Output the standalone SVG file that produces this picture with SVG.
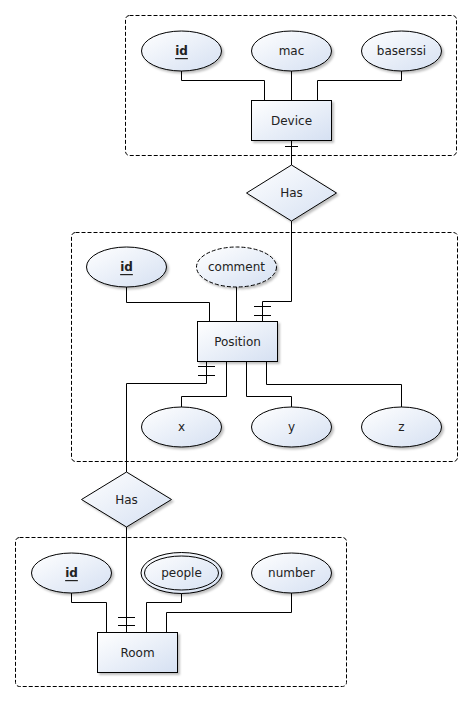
<svg xmlns="http://www.w3.org/2000/svg" width="472" height="703" viewBox="0 0 472 703">
<defs>
<linearGradient id="g" x1="0" y1="0" x2="1" y2="1">
<stop offset="0" stop-color="#ffffff"/>
<stop offset="1" stop-color="#d5e0f2"/>
</linearGradient>
<filter id="sh" x="-20%" y="-20%" width="150%" height="160%">
<feDropShadow dx="2" dy="2" stdDeviation="1.2" flood-color="#000" flood-opacity="0.25"/>
</filter>
<style>
text{font-family:"DejaVu Sans",Verdana,sans-serif;font-size:12px;fill:#222;text-anchor:middle;dominant-baseline:central}
.key{font-weight:bold;text-decoration:underline}
.shape{fill:url(#g);stroke:#000;stroke-width:1;filter:url(#sh)}
.dash{stroke-dasharray:4,2}
.grp{fill:none;stroke:#000;stroke-width:1;stroke-dasharray:4,2}
.c{fill:none;stroke:#000;stroke-width:1}
</style>
</defs>
<rect x="0" y="0" width="472" height="703" fill="#fff"/>
<g id="groups">
<rect class="grp" x="125.5" y="15.5" width="331" height="140" rx="4"/>
<rect class="grp" x="71.5" y="232.5" width="386" height="229" rx="4"/>
<rect class="grp" x="15.5" y="537.5" width="331" height="149" rx="4"/>
</g>
<g id="connectors">
<polyline class="c" points="181.5,71 181.5,80.5 264.5,80.5 264.5,100"/>
<polyline class="c" points="291.5,71 291.5,100"/>
<polyline class="c" points="401.5,71 401.5,80.5 317.5,80.5 317.5,100"/>
<polyline class="c" points="291.5,140 291.5,165"/>
<line class="c" x1="285" y1="146.5" x2="298" y2="146.5"/>
<polyline class="c" points="126.5,287 126.5,302.5 209.5,302.5 209.5,321"/>
<polyline class="c" points="236.5,287 236.5,321"/>
<polyline class="c" points="291.5,221 291.5,301.5 262.5,301.5 262.5,321"/>
<line class="c" x1="254" y1="306.5" x2="271" y2="306.5"/>
<line class="c" x1="254" y1="315.5" x2="271" y2="315.5"/>
<polyline class="c" points="206.5,361 206.5,383.5 126.5,383.5 126.5,472"/>
<line class="c" x1="198" y1="366.5" x2="215" y2="366.5"/>
<line class="c" x1="198" y1="375.5" x2="215" y2="375.5"/>
<polyline class="c" points="226.5,361 226.5,396.5 181.5,396.5 181.5,407"/>
<polyline class="c" points="246.5,361 246.5,396.5 291.5,396.5 291.5,407"/>
<polyline class="c" points="266.5,361 266.5,384.5 401.5,384.5 401.5,407"/>
<polyline class="c" points="126.5,527 126.5,632"/>
<line class="c" x1="118" y1="617.5" x2="135" y2="617.5"/>
<line class="c" x1="118" y1="625.5" x2="135" y2="625.5"/>
<polyline class="c" points="71.5,593 71.5,602.5 106.5,602.5 106.5,632"/>
<polyline class="c" points="181.5,593 181.5,602.5 146.5,602.5 146.5,632"/>
<polyline class="c" points="291.5,593 291.5,612.5 166.5,612.5 166.5,632"/>
</g>
<g id="device-id"><ellipse class="shape" cx="181.5" cy="51" rx="40" ry="20"/><text class="key" x="181.5" y="51">id</text></g>
<g id="device-mac"><ellipse class="shape" cx="291.5" cy="51" rx="40" ry="20"/><text x="291.5" y="51">mac</text></g>
<g id="device-baserssi"><ellipse class="shape" cx="401.5" cy="51" rx="40" ry="20"/><text x="401.5" y="51">baserssi</text></g>
<g id="device"><rect class="shape" x="251.5" y="100.5" width="80" height="40"/><text x="291.5" y="120.5">Device</text></g>
<g id="has1"><polygon class="shape" points="291.5,165 336.5,193 291.5,221 246.5,193"/><text x="291.5" y="193">Has</text></g>
<g id="position-id"><ellipse class="shape" cx="126.5" cy="267" rx="40" ry="20"/><text class="key" x="126.5" y="267">id</text></g>
<g id="position-comment"><ellipse class="shape dash" cx="236.5" cy="267" rx="40" ry="20"/><text x="236.5" y="267">comment</text></g>
<g id="position"><rect class="shape" x="197.5" y="321.5" width="80" height="40"/><text x="237.5" y="341.5">Position</text></g>
<g id="position-x"><ellipse class="shape" cx="181.5" cy="427" rx="40" ry="20"/><text x="181.5" y="427">x</text></g>
<g id="position-y"><ellipse class="shape" cx="291.5" cy="427" rx="40" ry="20"/><text x="291.5" y="427">y</text></g>
<g id="position-z"><ellipse class="shape" cx="401.5" cy="427" rx="40" ry="20"/><text x="401.5" y="427">z</text></g>
<g id="has2"><polygon class="shape" points="126.5,472 171.5,499.5 126.5,527 81.5,499.5"/><text x="126.5" y="499.5">Has</text></g>
<g id="room-id"><ellipse class="shape" cx="71.5" cy="573" rx="40" ry="20"/><text class="key" x="71.5" y="573">id</text></g>
<g id="room-people"><ellipse class="shape" cx="181.5" cy="573" rx="40.5" ry="20.5"/><ellipse cx="181.5" cy="573" rx="37" ry="17" fill="none" stroke="#000"/><text x="181.5" y="573">people</text></g>
<g id="room-number"><ellipse class="shape" cx="291.5" cy="573" rx="40" ry="20"/><text x="291.5" y="573">number</text></g>
<g id="room"><rect class="shape" x="97.5" y="632.5" width="80" height="40"/><text x="137.5" y="652.5">Room</text></g>
</svg>
